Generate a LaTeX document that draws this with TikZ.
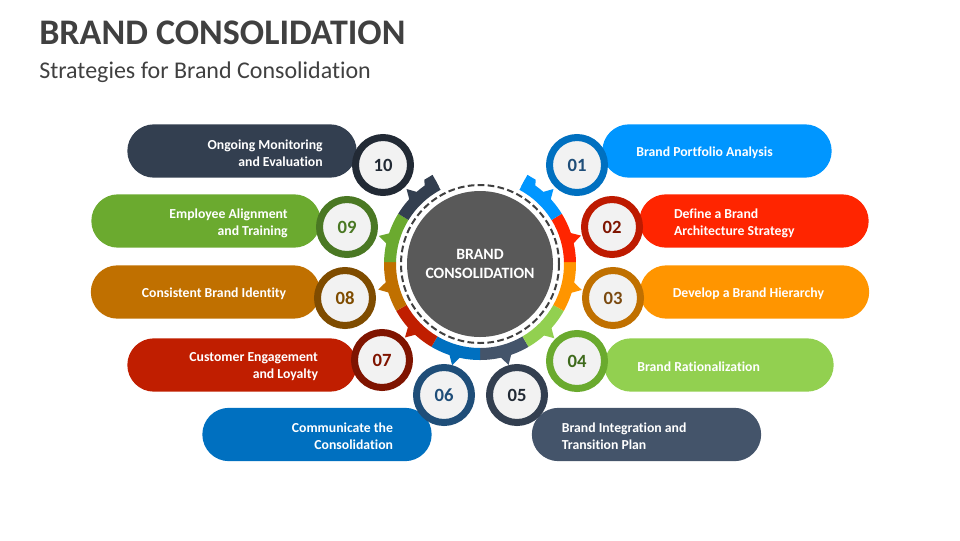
\documentclass[tikz,border=0pt]{standalone}
\usepackage{fontspec}
\setmainfont{Carlito}[Ligatures=NoCommon]
\definecolor{titlegray}{HTML}{404040}
\definecolor{subgray}{HTML}{404040}
\definecolor{hubgray}{HTML}{595959}
\definecolor{dashgray}{HTML}{404040}
\definecolor{numfill}{HTML}{F2F2F2}
\definecolor{c01}{HTML}{0096FF}\definecolor{r01}{HTML}{0070C0}\definecolor{n01}{HTML}{1F4E79}
\definecolor{c02}{HTML}{FF2500}\definecolor{r02}{HTML}{BE1A00}\definecolor{n02}{HTML}{7F1400}
\definecolor{c03}{HTML}{FF9500}\definecolor{r03}{HTML}{C07000}\definecolor{n03}{HTML}{7B4A10}
\definecolor{c04}{HTML}{92D050}\definecolor{r04}{HTML}{6AAA2E}\definecolor{n04}{HTML}{3E6A1C}
\definecolor{c05}{HTML}{44546A}\definecolor{r05}{HTML}{333F50}\definecolor{n05}{HTML}{222A35}
\definecolor{c06}{HTML}{0070C0}\definecolor{r06}{HTML}{1F4E79}\definecolor{n06}{HTML}{1F4E79}
\definecolor{c07}{HTML}{C01E00}\definecolor{r07}{HTML}{7F1400}\definecolor{n07}{HTML}{7F1400}
\definecolor{c08}{HTML}{C07000}\definecolor{r08}{HTML}{7F4C00}\definecolor{n08}{HTML}{7F4C00}
\definecolor{c09}{HTML}{6BAA2F}\definecolor{r09}{HTML}{4A7823}\definecolor{n09}{HTML}{4A7823}
\definecolor{c10}{HTML}{333F50}\definecolor{r10}{HTML}{222A35}\definecolor{n10}{HTML}{222A35}
\begin{document}
\begin{tikzpicture}[x=0.75pt,y=-0.75pt,
  pill/.style={rectangle, rounded corners=20pt, minimum height=40pt, minimum width=172pt, inner sep=0pt, draw=none},
  ptext/.style={text=white, inner sep=0pt, yshift=-1.5pt, font=\bfseries\fontsize{10.3}{12.75}\selectfont},
  numc/.style={circle, minimum size=41.25pt, inner sep=0pt, line width=5.25pt, fill=numfill, font=\bfseries\fontsize{14}{16}\selectfont},
  hubnode/.style={circle, fill=hubgray, minimum size=109.5pt, inner sep=0pt, text=white, align=center, font=\bfseries\fontsize{11.8}{14.25}\selectfont}]
\useasboundingbox (0,0) rectangle (960,540);
% titles
\node[anchor=base west, inner sep=0pt, text=titlegray, font=\bfseries\fontsize{27}{31}\selectfont] (title) at (39,44) {BRAND CONSOLIDATION};
\node[anchor=base west, inner sep=0pt, text=subgray, font=\fontsize{18}{21}\selectfont] (subtitle) at (39,78) {Strategies for Brand Consolidation};
% pills
\node[pill, fill=c01] (p01) at (717,151) {};
\node[pill, fill=c02] (p02) at (754,221) {};
\node[pill, fill=c03] (p03) at (754.5,292) {};
\node[pill, fill=c04] (p04) at (719,365) {};
\node[pill, fill=c05] (p05) at (646.5,434.5) {};
\node[pill, fill=c06] (p06) at (317,434.5) {};
\node[pill, fill=c07] (p07) at (242,365) {};
\node[pill, fill=c08] (p08) at (205.5,292) {};
\node[pill, fill=c09] (p09) at (206,221) {};
\node[pill, fill=c10] (p10) at (242,151) {};
% pill texts
\node[ptext, anchor=west, align=left] (t01) at ([xshift=25.5pt]p01.west) {Brand Portfolio Analysis};
\node[ptext, anchor=west, align=left] (t02) at ([xshift=26pt]p02.west) {Define a Brand\\Architecture Strategy};
\node[ptext, anchor=west, align=left] (t03) at ([xshift=24.75pt]p03.west) {Develop a Brand Hierarchy};
\node[ptext, anchor=west, align=left] (t04) at ([xshift=24.75pt]p04.west) {Brand Rationalization};
\node[ptext, anchor=west, align=left] (t05) at ([xshift=22.5pt]p05.west) {Brand Integration and\\Transition Plan};
\node[ptext, anchor=east, align=right] (t06) at ([xshift=-29pt]p06.east) {Communicate the\\Consolidation};
\node[ptext, anchor=east, align=right] (t07) at ([xshift=-29pt]p07.east) {Customer Engagement\\and Loyalty};
\node[ptext, anchor=east, align=right] (t08) at ([xshift=-25.5pt]p08.east) {Consistent Brand Identity};
\node[ptext, anchor=east, align=right] (t09) at ([xshift=-24.75pt]p09.east) {Employee Alignment\\and Training};
\node[ptext, anchor=east, align=right] (t10) at ([xshift=-25.5pt]p10.east) {Ongoing Monitoring\\and Evaluation};
% hub
\node[hubnode] (hub) at (480,264) {BRAND\\CONSOLIDATION};
\draw[dashgray, line width=1.5pt, dash pattern=on 5pt off 2.5pt] (hub.center) circle[radius=79];
% ring segments (polar angles are mirrored because y points down)
\begin{scope}[shift={(480,264)}]
\foreach \a/\b/\c in {90/59.6/c05, 59.6/29.2/c04, 29.2/-1.2/c03, -1.2/-31.6/c02, -31.6/-62/c01,
                      90/120.4/c06, 120.4/150.8/c07, 150.8/181.2/c08, 181.2/211.6/c09, 211.6/242/c10}{
  \fill[\c] (\a:84) -- (\a:96) arc[start angle=\a, end angle=\b, radius=96] -- (\b:84) arc[start angle=\b, end angle=\a, radius=84] -- cycle;
}
\foreach \q/\c in {-45.6/c01, -15.7/c02, 14.3/c03, 45/c04, 74.2/c05, 105.4/c06, 135.6/c07, 165.9/c08, 195.5/c09, 225.6/c10}{
  \fill[\c] (\q-3.5:95) -- (\q:105) -- (\q+3.5:95) -- cycle;
}
\fill[c01] (-62:88) -- (-62:101) -- (-56.5:101) -- (-54.5:95) -- (-60:88) -- cycle;
\fill[c10] (242:88) -- (242:101) -- (236.5:101) -- (234.5:95) -- (240:88) -- cycle;
\end{scope}
% number circles
\node[numc, draw=r01, text=n01] (c01) at (577,165) {01};
\node[numc, draw=r02, text=n02] (c02) at (612,227) {02};
\node[numc, draw=r03, text=n03] (c03) at (613,298) {03};
\node[numc, draw=r04, text=n04] (c04) at (577,361) {04};
\node[numc, draw=r05, text=n05] (c05) at (517,395) {05};
\node[numc, draw=r06, text=n06] (c06) at (444,395) {06};
\node[numc, draw=r07, text=n07] (c07) at (382,360) {07};
\node[numc, draw=r08, text=n08] (c08) at (345,298) {08};
\node[numc, draw=r09, text=n09] (c09) at (347,227) {09};
\node[numc, draw=r10, text=n10] (c10) at (383,165) {10};
\end{tikzpicture}
\end{document}
